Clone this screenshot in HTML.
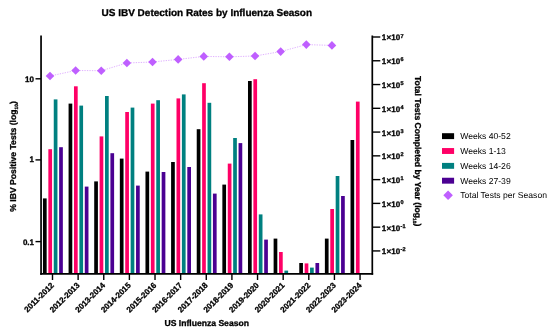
<!DOCTYPE html>
<html><head><meta charset="utf-8"><title>US IBV Detection Rates by Influenza Season</title>
<style>html,body{margin:0;padding:0;background:#fff}svg{display:block}</style></head>
<body>
<svg width="550" height="332" viewBox="0 0 550 332" font-family="Liberation Sans, sans-serif" text-rendering="geometricPrecision">
<style>.b{font-weight:bold;stroke:#000;stroke-width:0.3px;stroke-linejoin:round}</style>
<rect width="550" height="332" fill="#fff"/>
<rect x="42.95" y="198.40" width="3.7" height="75.40" fill="#000000"/>
<rect x="48.35" y="149.20" width="3.7" height="124.60" fill="#ff0066"/>
<rect x="53.75" y="99.40" width="3.7" height="174.40" fill="#008080"/>
<rect x="59.15" y="147.20" width="3.7" height="126.60" fill="#4b0092"/>
<rect x="68.58" y="103.60" width="3.7" height="170.20" fill="#000000"/>
<rect x="73.98" y="86.30" width="3.7" height="187.50" fill="#ff0066"/>
<rect x="79.38" y="105.60" width="3.7" height="168.20" fill="#008080"/>
<rect x="84.78" y="186.60" width="3.7" height="87.20" fill="#4b0092"/>
<rect x="94.21" y="181.40" width="3.7" height="92.40" fill="#000000"/>
<rect x="99.61" y="136.40" width="3.7" height="137.40" fill="#ff0066"/>
<rect x="105.01" y="96.00" width="3.7" height="177.80" fill="#008080"/>
<rect x="110.41" y="153.20" width="3.7" height="120.60" fill="#4b0092"/>
<rect x="119.84" y="158.60" width="3.7" height="115.20" fill="#000000"/>
<rect x="125.24" y="112.00" width="3.7" height="161.80" fill="#ff0066"/>
<rect x="130.64" y="107.60" width="3.7" height="166.20" fill="#008080"/>
<rect x="136.04" y="185.60" width="3.7" height="88.20" fill="#4b0092"/>
<rect x="145.47" y="171.60" width="3.7" height="102.20" fill="#000000"/>
<rect x="150.87" y="103.60" width="3.7" height="170.20" fill="#ff0066"/>
<rect x="156.27" y="100.20" width="3.7" height="173.60" fill="#008080"/>
<rect x="161.67" y="172.00" width="3.7" height="101.80" fill="#4b0092"/>
<rect x="171.10" y="162.00" width="3.7" height="111.80" fill="#000000"/>
<rect x="176.50" y="98.40" width="3.7" height="175.40" fill="#ff0066"/>
<rect x="181.90" y="94.40" width="3.7" height="179.40" fill="#008080"/>
<rect x="187.30" y="167.00" width="3.7" height="106.80" fill="#4b0092"/>
<rect x="196.73" y="129.20" width="3.7" height="144.60" fill="#000000"/>
<rect x="202.13" y="83.20" width="3.7" height="190.60" fill="#ff0066"/>
<rect x="207.53" y="102.80" width="3.7" height="171.00" fill="#008080"/>
<rect x="212.93" y="193.60" width="3.7" height="80.20" fill="#4b0092"/>
<rect x="222.36" y="184.60" width="3.7" height="89.20" fill="#000000"/>
<rect x="227.76" y="163.60" width="3.7" height="110.20" fill="#ff0066"/>
<rect x="233.16" y="138.00" width="3.7" height="135.80" fill="#008080"/>
<rect x="238.56" y="143.10" width="3.7" height="130.70" fill="#4b0092"/>
<rect x="247.99" y="81.00" width="3.7" height="192.80" fill="#000000"/>
<rect x="253.39" y="79.20" width="3.7" height="194.60" fill="#ff0066"/>
<rect x="258.79" y="214.40" width="3.7" height="59.40" fill="#008080"/>
<rect x="264.19" y="239.60" width="3.7" height="34.20" fill="#4b0092"/>
<rect x="273.62" y="238.60" width="3.7" height="35.20" fill="#000000"/>
<rect x="279.02" y="252.00" width="3.7" height="21.80" fill="#ff0066"/>
<rect x="284.42" y="270.60" width="3.7" height="3.20" fill="#008080"/>
<rect x="299.25" y="263.00" width="3.7" height="10.80" fill="#000000"/>
<rect x="304.65" y="263.40" width="3.7" height="10.40" fill="#ff0066"/>
<rect x="310.05" y="267.60" width="3.7" height="6.20" fill="#008080"/>
<rect x="315.45" y="263.00" width="3.7" height="10.80" fill="#4b0092"/>
<rect x="324.88" y="238.60" width="3.7" height="35.20" fill="#000000"/>
<rect x="330.28" y="209.00" width="3.7" height="64.80" fill="#ff0066"/>
<rect x="335.68" y="176.00" width="3.7" height="97.80" fill="#008080"/>
<rect x="341.08" y="196.00" width="3.7" height="77.80" fill="#4b0092"/>
<rect x="350.51" y="140.00" width="3.7" height="133.80" fill="#000000"/>
<rect x="355.91" y="101.60" width="3.7" height="172.20" fill="#ff0066"/>
<polyline points="50.00,76.00 75.63,70.50 101.26,70.70 126.89,63.00 152.52,62.00 178.15,59.40 203.78,56.40 229.41,56.80 255.04,56.00 280.67,51.60 306.30,44.60 331.93,45.40" fill="none" stroke="#bf5fff" stroke-width="0.7" stroke-dasharray="1.3 1.2" opacity="0.7"/>
<path d="M45.70 76.00L50.00 71.70L54.30 76.00L50.00 80.30Z" fill="#bf5fff"/>
<path d="M71.33 70.50L75.63 66.20L79.93 70.50L75.63 74.80Z" fill="#bf5fff"/>
<path d="M96.96 70.70L101.26 66.40L105.56 70.70L101.26 75.00Z" fill="#bf5fff"/>
<path d="M122.59 63.00L126.89 58.70L131.19 63.00L126.89 67.30Z" fill="#bf5fff"/>
<path d="M148.22 62.00L152.52 57.70L156.82 62.00L152.52 66.30Z" fill="#bf5fff"/>
<path d="M173.85 59.40L178.15 55.10L182.45 59.40L178.15 63.70Z" fill="#bf5fff"/>
<path d="M199.48 56.40L203.78 52.10L208.08 56.40L203.78 60.70Z" fill="#bf5fff"/>
<path d="M225.11 56.80L229.41 52.50L233.71 56.80L229.41 61.10Z" fill="#bf5fff"/>
<path d="M250.74 56.00L255.04 51.70L259.34 56.00L255.04 60.30Z" fill="#bf5fff"/>
<path d="M276.37 51.60L280.67 47.30L284.97 51.60L280.67 55.90Z" fill="#bf5fff"/>
<path d="M302.00 44.60L306.30 40.30L310.60 44.60L306.30 48.90Z" fill="#bf5fff"/>
<path d="M327.63 45.40L331.93 41.10L336.23 45.40L331.93 49.70Z" fill="#bf5fff"/>
<path d="M41.05 35.6V274.7M372.3 35.6V274.7" fill="none" stroke="#000" stroke-width="1.7"/>
<path d="M40.2 273.8H373.15" fill="none" stroke="#000" stroke-width="1.8"/>
<path d="M35.5 78.8H41" stroke="#000" stroke-width="1.4"/>
<text x="34.0" y="81.50" font-size="8" class="b" text-anchor="end">10</text>
<path d="M35.5 159.9H41" stroke="#000" stroke-width="1.4"/>
<text x="34.0" y="162.30" font-size="8" class="b" text-anchor="end">1</text>
<path d="M35.5 241.6H41" stroke="#000" stroke-width="1.4"/>
<text x="34.0" y="244.60" font-size="8" class="b" text-anchor="end">0.1</text>
<path d="M372.3 37.00H380.3" stroke="#000" stroke-width="1.4"/>
<text x="381.8" y="40.45" font-size="8" class="b" letter-spacing="0.15">1×10<tspan font-size="5.5" dy="-2.9">7</tspan></text>
<path d="M372.3 60.77H380.3" stroke="#000" stroke-width="1.4"/>
<text x="381.8" y="64.22" font-size="8" class="b" letter-spacing="0.15">1×10<tspan font-size="5.5" dy="-2.9">6</tspan></text>
<path d="M372.3 84.54H380.3" stroke="#000" stroke-width="1.4"/>
<text x="381.8" y="87.99" font-size="8" class="b" letter-spacing="0.15">1×10<tspan font-size="5.5" dy="-2.9">5</tspan></text>
<path d="M372.3 108.31H380.3" stroke="#000" stroke-width="1.4"/>
<text x="381.8" y="111.76" font-size="8" class="b" letter-spacing="0.15">1×10<tspan font-size="5.5" dy="-2.9">4</tspan></text>
<path d="M372.3 132.08H380.3" stroke="#000" stroke-width="1.4"/>
<text x="381.8" y="135.53" font-size="8" class="b" letter-spacing="0.15">1×10<tspan font-size="5.5" dy="-2.9">3</tspan></text>
<path d="M372.3 155.85H380.3" stroke="#000" stroke-width="1.4"/>
<text x="381.8" y="159.30" font-size="8" class="b" letter-spacing="0.15">1×10<tspan font-size="5.5" dy="-2.9">2</tspan></text>
<path d="M372.3 179.62H380.3" stroke="#000" stroke-width="1.4"/>
<text x="381.8" y="183.07" font-size="8" class="b" letter-spacing="0.15">1×10<tspan font-size="5.5" dy="-2.9">1</tspan></text>
<path d="M372.3 203.39H380.3" stroke="#000" stroke-width="1.4"/>
<text x="381.8" y="206.84" font-size="8" class="b" letter-spacing="0.15">1×10<tspan font-size="5.5" dy="-2.9">0</tspan></text>
<path d="M372.3 227.16H380.3" stroke="#000" stroke-width="1.4"/>
<text x="381.8" y="230.61" font-size="8" class="b" letter-spacing="0.15">1×10<tspan font-size="5.5" dy="-2.9">-1</tspan></text>
<path d="M372.3 250.93H380.3" stroke="#000" stroke-width="1.4"/>
<text x="381.8" y="254.38" font-size="8" class="b" letter-spacing="0.15">1×10<tspan font-size="5.5" dy="-2.9">-2</tspan></text>
<path d="M52.50 273.8V280" stroke="#000" stroke-width="1.4"/>
<text transform="translate(54.50 285.8) rotate(-45)" font-size="8.05" class="b" text-anchor="end">2011-2012</text>
<path d="M78.13 273.8V280" stroke="#000" stroke-width="1.4"/>
<text transform="translate(80.13 285.8) rotate(-45)" font-size="8.05" class="b" text-anchor="end">2012-2013</text>
<path d="M103.76 273.8V280" stroke="#000" stroke-width="1.4"/>
<text transform="translate(105.76 285.8) rotate(-45)" font-size="8.05" class="b" text-anchor="end">2013-2014</text>
<path d="M129.39 273.8V280" stroke="#000" stroke-width="1.4"/>
<text transform="translate(131.39 285.8) rotate(-45)" font-size="8.05" class="b" text-anchor="end">2014-2015</text>
<path d="M155.02 273.8V280" stroke="#000" stroke-width="1.4"/>
<text transform="translate(157.02 285.8) rotate(-45)" font-size="8.05" class="b" text-anchor="end">2015-2016</text>
<path d="M180.65 273.8V280" stroke="#000" stroke-width="1.4"/>
<text transform="translate(182.65 285.8) rotate(-45)" font-size="8.05" class="b" text-anchor="end">2016-2017</text>
<path d="M206.28 273.8V280" stroke="#000" stroke-width="1.4"/>
<text transform="translate(208.28 285.8) rotate(-45)" font-size="8.05" class="b" text-anchor="end">2017-2018</text>
<path d="M231.91 273.8V280" stroke="#000" stroke-width="1.4"/>
<text transform="translate(233.91 285.8) rotate(-45)" font-size="8.05" class="b" text-anchor="end">2018-2019</text>
<path d="M257.54 273.8V280" stroke="#000" stroke-width="1.4"/>
<text transform="translate(259.54 285.8) rotate(-45)" font-size="8.05" class="b" text-anchor="end">2019-2020</text>
<path d="M283.17 273.8V280" stroke="#000" stroke-width="1.4"/>
<text transform="translate(285.17 285.8) rotate(-45)" font-size="8.05" class="b" text-anchor="end">2020-2021</text>
<path d="M308.80 273.8V280" stroke="#000" stroke-width="1.4"/>
<text transform="translate(310.80 285.8) rotate(-45)" font-size="8.05" class="b" text-anchor="end">2021-2022</text>
<path d="M334.43 273.8V280" stroke="#000" stroke-width="1.4"/>
<text transform="translate(336.43 285.8) rotate(-45)" font-size="8.05" class="b" text-anchor="end">2022-2023</text>
<path d="M360.06 273.8V280" stroke="#000" stroke-width="1.4"/>
<text transform="translate(362.06 285.8) rotate(-45)" font-size="8.05" class="b" text-anchor="end">2023-2024</text>
<text x="206.8" y="16.45" font-size="10" class="b" text-anchor="middle">US IBV Detection Rates by Influenza Season</text>
<text x="206.7" y="326" font-size="8.6" class="b" text-anchor="middle">US Influenza Season</text>
<text transform="translate(16.0 211.7) rotate(-90)" font-size="8.62" class="b">% IBV Positive Tests (log<tspan font-size="4.8" dy="2.3">10</tspan><tspan dy="-2.3">)</tspan></text>
<text transform="translate(414.8 76.0) rotate(90)" font-size="8.62" class="b">Total Tests Completed by Year (log<tspan font-size="4.8" dy="1.3">10</tspan><tspan dy="-1.3">)</tspan></text>
<rect x="442" y="133.20" width="12.1" height="5.9" fill="#000000"/>
<text x="460.2" y="139.10" font-size="8.6">Weeks 40-52</text>
<rect x="442" y="148.05" width="12.1" height="5.9" fill="#ff0066"/>
<text x="460.2" y="153.95" font-size="8.6">Weeks 1-13</text>
<rect x="442" y="162.90" width="12.1" height="5.9" fill="#008080"/>
<text x="460.2" y="168.80" font-size="8.6">Weeks 14-26</text>
<rect x="442" y="177.75" width="12.1" height="5.9" fill="#4b0092"/>
<text x="460.2" y="183.65" font-size="8.6">Weeks 27-39</text>
<path d="M443.30 195.30L448.10 190.50L452.90 195.30L448.10 200.10Z" fill="#bf5fff"/>
<text x="460.2" y="198.18" font-size="8.6">Total Tests per Season</text>
</svg>
</body></html>
